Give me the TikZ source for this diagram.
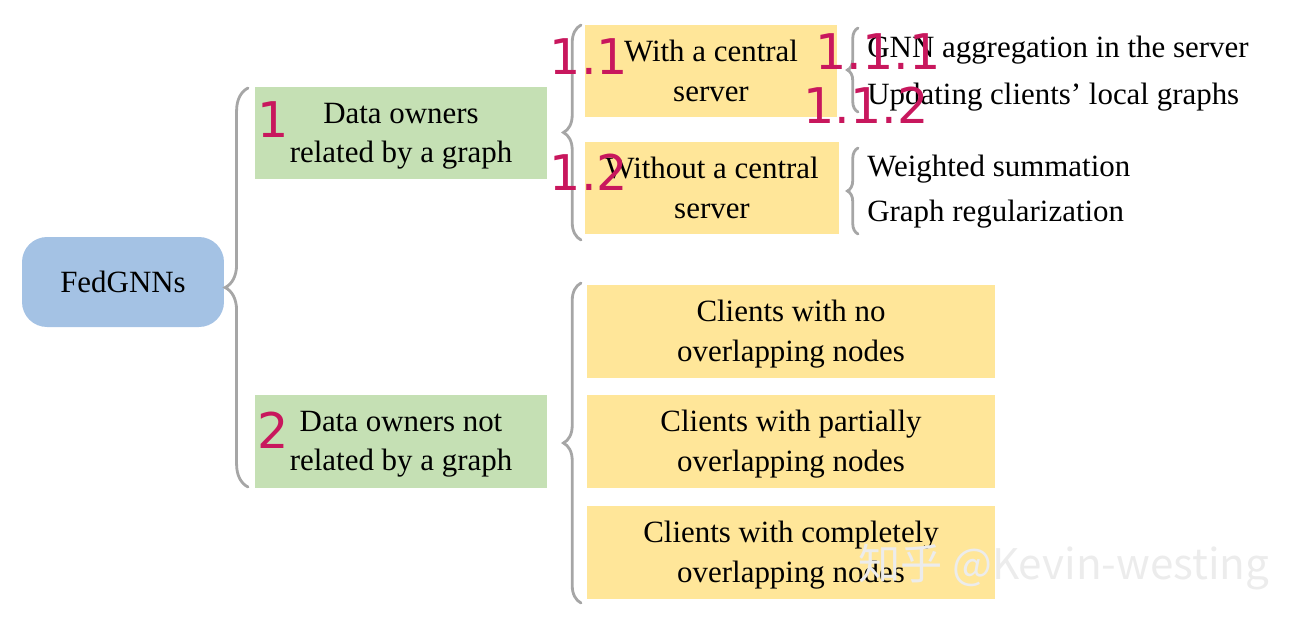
\documentclass[tikz,border=0pt]{standalone}
\usepackage{fontspec}
\setmainfont{Liberation Serif}
\newfontfamily\numfont{DejaVu Sans}
\newfontfamily\cjk{Noto Sans CJK SC}
\usetikzlibrary{decorations.pathreplacing}
\definecolor{bblue}{HTML}{A4C2E4}
\definecolor{bgreen}{HTML}{C5E0B4}
\definecolor{byellow}{HTML}{FFE699}
\definecolor{bpink}{HTML}{C8175D}
\definecolor{bgray}{HTML}{A6A6A6}
\begin{document}
\begin{tikzpicture}[x=0.02cm,y=-0.02cm,
  txt/.style={font=\fontsize{17.6}{22.5}\selectfont,align=center},
  box/.style={txt,minimum height=1.86cm,inner sep=0pt,text depth=0pt},
  gbox/.style={box,fill=bgreen,minimum width=5.84cm},
  ybox/.style={box,fill=byellow},
  num/.style={text=bpink,font=\numfont\fontsize{28}{28}\selectfont,inner sep=0pt},
  lf/.style={txt,anchor=west,inner sep=0pt},
  br/.style={draw=bgray,line width=1.6pt,line cap=round,decorate,decoration={brace,amplitude=#1}},
  br/.default=9pt]
\useasboundingbox (0,0) rectangle (1300,626);
\node[fill=bblue,rounded corners=0.5cm,minimum width=4.04cm,minimum height=1.8cm,txt] (root) at (123,282) {FedGNNs};
\node[gbox] (g1) at (401,133) {Data owners\\related by a graph};
\node[gbox] (g2) at (401,441) {Data owners not\\related by a graph};
\node[ybox,minimum width=5.06cm] (y11) at (711,71) {With a central\\server};
\node[ybox,minimum width=5.1cm] (y12) at (712,188) {Without a central\\server};
\node[ybox,minimum width=8.16cm] (y21) at (791,331) {Clients with no\\overlapping nodes};
\node[ybox,minimum width=8.16cm] (y22) at (791,441) {Clients with partially\\overlapping nodes};
\node[ybox,minimum width=8.16cm] (y23) at (791,552) {Clients with completely\\overlapping nodes};
\coordinate (a1) at (248,487); \coordinate (a2) at (248,88);
\draw[br=13pt] (a1) -- (a2);
\coordinate (b1) at (581,240); \coordinate (b2) at (581,25);
\draw[br=10pt] (b1) -- (b2);
\coordinate (c1) at (581,603); \coordinate (c2) at (581,283);
\draw[br=10pt] (c1) -- (c2);
\coordinate (d1) at (858,112); \coordinate (d2) at (858,28);
\draw[br=6pt] (d1) -- (d2);
\coordinate (e1) at (858,234); \coordinate (e2) at (858,148);
\draw[br=6pt] (e1) -- (e2);
\node[lf] (t111) at (867,50) {GNN aggregation in the server};
\node[lf] (t112) at (867,97) {Updating clients’ local graphs};
\node[lf] (t121) at (867,169) {Weighted summation};
\node[lf] (t122) at (867,214) {Graph regularization};
\node[num] (n1) at (273,120) {1};
\node[num] (n2) at (273,430) {2};
\node[num] (n11) at (589,57) {1.1};
\node[num] (n12) at (589,172) {1.2};
\node[num] (n111) at (878,52) {1.1.1};
\node[num] (n112) at (866,105) {1.1.2};
\node[text=white!85!gray,font=\cjk\fontsize{24}{24}\selectfont,anchor=west,inner sep=0pt] (wm) at (858,567) {知乎 @Kevin-westing};
\end{tikzpicture}
\end{document}
